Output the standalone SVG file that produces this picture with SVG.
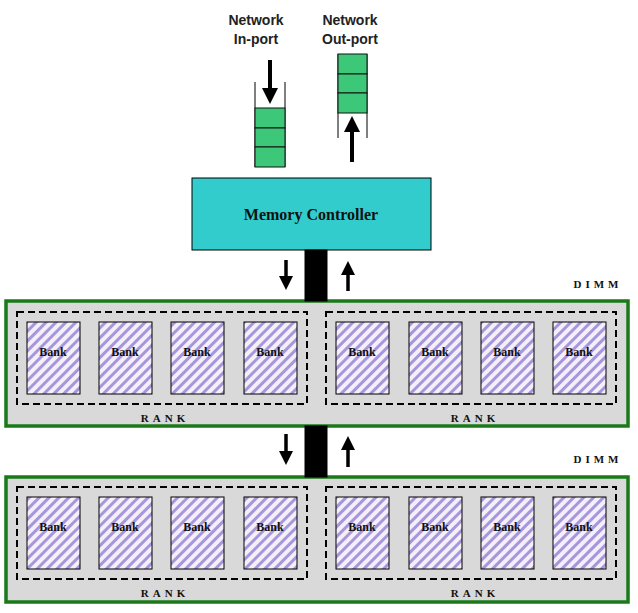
<svg xmlns="http://www.w3.org/2000/svg" width="638" height="613" viewBox="0 0 638 613">
<style>
.lbl{font-family:"Liberation Sans",Arial,sans-serif;font-weight:bold;font-size:14px;fill:#222;text-anchor:middle}
.ser{font-family:"Liberation Serif","Times New Roman",serif;font-weight:bold;fill:#111;text-anchor:middle}
.bank{fill:url(#hatch);stroke:#000;stroke-width:1}
.dimm{fill:#d9d9d9;stroke:#1a7a1a;stroke-width:3.5}
.rank{fill:none;stroke:#000;stroke-width:2;stroke-dasharray:7,4}
.cell{fill:#3cc878;stroke:#111;stroke-width:1}
</style>
<defs>
<pattern id="hatch" patternUnits="userSpaceOnUse" width="7" height="7" patternTransform="rotate(45)">
<rect width="7" height="7" fill="#f4f0fa"/>
<rect width="3" height="7" fill="#a896dc"/>
</pattern>
<marker id="ah" markerWidth="4" markerHeight="4" refX="2" refY="2" orient="auto" markerUnits="strokeWidth">
<path d="M0,0 L4,2 L0,4 Z" fill="#000"/>
</marker>
</defs>
<rect width="638" height="613" fill="#fff"/>
<g id="inport">
<text class="lbl" x="256" y="25">Network</text>
<text class="lbl" x="256" y="44">In-port</text>
<path d="M255,82 V167 M285,82 V167" stroke="#000" fill="none"/>
<rect class="cell" x="255" y="108" width="30" height="20"/>
<rect class="cell" x="255" y="128" width="30" height="19"/>
<rect class="cell" x="255" y="147" width="30" height="20"/>
</g>
<g id="outport">
<text class="lbl" x="350" y="25">Network</text>
<text class="lbl" x="350" y="44">Out-port</text>
<path d="M338,54 V138 M367,54 V138" stroke="#000" fill="none"/>
<rect class="cell" x="338" y="54" width="29" height="20"/>
<rect class="cell" x="338" y="74" width="29" height="19"/>
<rect class="cell" x="338" y="93" width="29" height="20"/>
</g>
<g id="controller">
<rect x="192" y="178" width="239" height="72" fill="#33cccc" stroke="#000"/>
<text class="ser" x="311" y="220" font-size="16" fill="#0d3b4a">Memory Controller</text>
</g>
<g id="dimm1">
<rect class="dimm" x="6" y="301" width="622" height="125"/>
<rect class="rank" x="17" y="312" width="290" height="92"/>
<rect class="rank" x="326" y="312" width="290" height="92"/>
<g class="ser" font-size="12">
<rect class="bank" x="27" y="322" width="53" height="72"/><text x="53" y="356">Bank</text>
<rect class="bank" x="99" y="322" width="53" height="72"/><text x="125" y="356">Bank</text>
<rect class="bank" x="171" y="322" width="53" height="72"/><text x="197" y="356">Bank</text>
<rect class="bank" x="244" y="322" width="53" height="72"/><text x="270" y="356">Bank</text>
<rect class="bank" x="336" y="322" width="53" height="72"/><text x="362" y="356">Bank</text>
<rect class="bank" x="409" y="322" width="53" height="72"/><text x="435" y="356">Bank</text>
<rect class="bank" x="481" y="322" width="53" height="72"/><text x="507" y="356">Bank</text>
<rect class="bank" x="553" y="322" width="53" height="72"/><text x="579" y="356">Bank</text>
</g>
<text class="ser" x="165" y="422" font-size="11" letter-spacing="4">RANK</text>
<text class="ser" x="475" y="422" font-size="11" letter-spacing="4">RANK</text>
<text class="ser" x="598" y="288" font-size="11" letter-spacing="4">DIMM</text>
</g>
<g id="dimm2">
<rect class="dimm" x="6" y="477" width="622" height="125"/>
<rect class="rank" x="17" y="487" width="290" height="92"/>
<rect class="rank" x="326" y="487" width="290" height="92"/>
<g class="ser" font-size="12">
<rect class="bank" x="27" y="497" width="53" height="72"/><text x="53" y="531">Bank</text>
<rect class="bank" x="99" y="497" width="53" height="72"/><text x="125" y="531">Bank</text>
<rect class="bank" x="171" y="497" width="53" height="72"/><text x="197" y="531">Bank</text>
<rect class="bank" x="244" y="497" width="53" height="72"/><text x="270" y="531">Bank</text>
<rect class="bank" x="336" y="497" width="53" height="72"/><text x="362" y="531">Bank</text>
<rect class="bank" x="409" y="497" width="53" height="72"/><text x="435" y="531">Bank</text>
<rect class="bank" x="481" y="497" width="53" height="72"/><text x="507" y="531">Bank</text>
<rect class="bank" x="553" y="497" width="53" height="72"/><text x="579" y="531">Bank</text>
</g>
<text class="ser" x="165" y="597" font-size="11" letter-spacing="4">RANK</text>
<text class="ser" x="475" y="597" font-size="11" letter-spacing="4">RANK</text>
<text class="ser" x="598" y="463" font-size="11" letter-spacing="4">DIMM</text>
</g>
<g id="connectors" stroke="#000" fill="none">
<rect x="305" y="250" width="22" height="51" fill="#000"/>
<rect x="305" y="426" width="22" height="51" fill="#000"/>
<line x1="270" y1="60" x2="270" y2="96" stroke-width="4" marker-end="url(#ah)"/>
<line x1="352" y1="162" x2="352" y2="124" stroke-width="4" marker-end="url(#ah)"/>
<line x1="286" y1="260" x2="286" y2="283" stroke-width="3.5" marker-end="url(#ah)"/>
<line x1="348" y1="291" x2="348" y2="268" stroke-width="3.5" marker-end="url(#ah)"/>
<line x1="286" y1="434" x2="286" y2="458" stroke-width="3.5" marker-end="url(#ah)"/>
<line x1="348" y1="467" x2="348" y2="443" stroke-width="3.5" marker-end="url(#ah)"/>
</g>
</svg>
